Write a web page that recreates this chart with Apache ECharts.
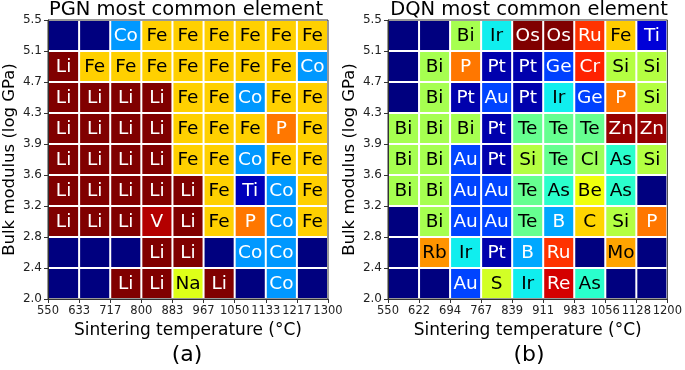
<!DOCTYPE html>
<html>
<head>
<meta charset="utf-8">
<script src="https://cdn.jsdelivr.net/npm/echarts@6/dist/echarts.min.js"></script>
<style>
  html, body { margin: 0; padding: 0; background: #fff; }
  #chart { width: 685px; height: 370px; }
</style>
</head>
<body>
<div id="chart"></div>
<script>
// tick labels (cell boundaries)
const xTicksPGN = ['550', '633', '717', '800', '883', '967', '1050', '1133', '1217', '1300'];
const xTicksDQN = ['550', '622', '694', '767', '839', '911', '983', '1056', '1128', '1200'];
const yTicks = ['2.0', '2.4', '2.8', '3.2', '3.6', '3.9', '4.3', '4.7', '5.1', '5.5'];

// most common element per cell, top row first ('' = none)
const pgnGrid = [
  ['', '', 'Co', 'Fe', 'Fe', 'Fe', 'Fe', 'Fe', 'Fe'],
  ['Li', 'Fe', 'Fe', 'Fe', 'Fe', 'Fe', 'Fe', 'Fe', 'Co'],
  ['Li', 'Li', 'Li', 'Li', 'Fe', 'Fe', 'Co', 'Fe', 'Fe'],
  ['Li', 'Li', 'Li', 'Li', 'Fe', 'Fe', 'Fe', 'P', 'Fe'],
  ['Li', 'Li', 'Li', 'Li', 'Fe', 'Fe', 'Co', 'Fe', 'Fe'],
  ['Li', 'Li', 'Li', 'Li', 'Li', 'Fe', 'Ti', 'Co', 'Fe'],
  ['Li', 'Li', 'Li', 'V', 'Li', 'Fe', 'P', 'Co', 'Fe'],
  ['', '', '', 'Li', 'Li', '', 'Co', 'Co', ''],
  ['', '', 'Li', 'Li', 'Na', 'Li', '', 'Co', '']
];
const dqnGrid = [
  ['', '', 'Bi', 'Ir', 'Os', 'Os', 'Ru', 'Fe', 'Ti'],
  ['', 'Bi', 'P', 'Pt', 'Pt', 'Ge', 'Cr', 'Si', 'Si'],
  ['', 'Bi', 'Pt', 'Au', 'Pt', 'Ir', 'Ge', 'P', 'Si'],
  ['Bi', 'Bi', 'Bi', 'Pt', 'Te', 'Te', 'Te', 'Zn', 'Zn'],
  ['Bi', 'Bi', 'Au', 'Pt', 'Si', 'Te', 'Cl', 'As', 'Si'],
  ['Bi', 'Bi', 'Au', 'Au', 'Te', 'As', 'Be', 'As', ''],
  ['', 'Bi', 'Au', 'Au', 'Te', 'B', 'C', 'Si', 'P'],
  ['', 'Rb', 'Ir', 'Pt', 'B', 'Ru', '', 'Mo', ''],
  ['', '', 'Au', 'S', 'Ir', 'Re', 'As', '', '']
];

// colours (jet-like) per element
const pgnColors = {
  '': '#00007f', Li: '#800000', V: '#b40000', P: '#ff7700', Fe: '#ffd000',
  Na: '#deff18', Co: '#0098ff', Ti: '#0000bb'
};
const dqnColors = {
  '': '#00007f', Os: '#800000', Zn: '#960000', Re: '#d40000', Cr: '#ff2200',
  Ru: '#ff3300', P: '#ff7700', Rb: '#ff9400', Mo: '#ffa400', Fe: '#ffcc00',
  C: '#ffd500', Be: '#f0ff0c', S: '#d2ff26', Si: '#b4ff42', Bi: '#a6ff50',
  Cl: '#9cff5a', Te: '#66ff90', As: '#2affcc', Ir: '#10eeee', B: '#00a8ff',
  Ge: '#0040ff', Au: '#0044ff', Ti: '#0000d8', Pt: '#0000ad'
};
const whiteText = ['Li', 'V', 'P', 'Co', 'Ti', 'Os', 'Zn', 'Re', 'Cr', 'Ru', 'B', 'Ge', 'Au', 'Pt'];

const FONT = 'DejaVu Sans';

// grid rows -> [col, row, element]
const toCells = (grid) => {
  let cells = [];
  grid.forEach((row, r) => {
    row.forEach((el, c) => {
      cells.push([c, grid.length - 1 - r, el]);
    });
  });
  return cells;
};

const makeRender = (colors) => (params, api) => {
  let c = api.value(0);
  let r = api.value(1);
  let el = api.value(2) || '';
  let p0 = api.coord([c, r]);
  let p1 = api.coord([c + 1, r + 1]);
  let x = p0[0] + 1, y = p1[1] + 1;
  let w = p1[0] - p0[0] - 2, h = p0[1] - p1[1] - 2;
  return {
    type: 'group',
    children: [
      { type: 'rect', shape: { x: x, y: y, width: w, height: h },
        style: { fill: colors[el] || colors[''] } },
      { type: 'text', x: x + w / 2, y: y + h / 2 + 1,
        style: { text: el, fill: whiteText.indexOf(el) >= 0 ? '#fff' : '#000',
          font: '18.5px "' + FONT + '"', align: 'center', verticalAlign: 'middle' } }
    ]
  };
};

const xAxisFor = (gridIndex, ticks) => ({
  gridIndex: gridIndex, type: 'value', min: 0, max: 9, interval: 1,
  name: 'Sintering temperature (°C)', nameLocation: 'middle', nameGap: 22,
  nameTextStyle: { fontFamily: FONT, fontSize: 17, color: '#000' },
  axisLine: { show: true, lineStyle: { color: '#333', width: 1 } },
  axisTick: { show: true, length: 4, lineStyle: { color: '#333' } },
  axisLabel: { fontFamily: FONT, fontSize: 11.5, color: '#222', margin: 6,
    hideOverlap: false, showMinLabel: true, showMaxLabel: true, interval: 0,
    formatter: (v) => ticks[Math.round(v)] },
  splitLine: { show: false }
});

const yAxisFor = (gridIndex) => ({
  gridIndex: gridIndex, type: 'value', min: 0, max: 9, interval: 1,
  name: 'Bulk modulus (log GPa)', nameLocation: 'middle', nameGap: 30,
  nameTextStyle: { fontFamily: FONT, fontSize: 16.5, color: '#000' },
  axisLine: { show: true, lineStyle: { color: '#333', width: 1 } },
  axisTick: { show: true, length: 4, lineStyle: { color: '#333' } },
  axisLabel: { fontFamily: FONT, fontSize: 12, color: '#222', margin: 6,
    hideOverlap: false, showMinLabel: true, showMaxLabel: true, interval: 0,
    formatter: (v) => yTicks[Math.round(v)] },
  splitLine: { show: false }
});

let chartDiv = document.getElementById('chart');
let myChart = echarts.init(chartDiv, null, { renderer: 'canvas' });

let option = {
  animation: false,
  backgroundColor: '#fff',
  grid: [
    { left: 45, top: 20, width: 283, height: 279, show: true, borderColor: '#333', borderWidth: 1, backgroundColor: '#fff' },
    { left: 388, top: 20, width: 282, height: 279, show: true, borderColor: '#333', borderWidth: 1, backgroundColor: '#fff' }
  ],
  xAxis: [xAxisFor(0, xTicksPGN), xAxisFor(1, xTicksDQN)],
  yAxis: [yAxisFor(0), yAxisFor(1)],
  graphic: [
    { type: 'text', x: 186, y: 10, style: { text: 'PGN most common element', font: '19.5px "' + FONT + '"', fill: '#000', align: 'center', verticalAlign: 'middle' } },
    { type: 'text', x: 529, y: 10, style: { text: 'DQN most common element', font: '19.5px "' + FONT + '"', fill: '#000', align: 'center', verticalAlign: 'middle' } },
    { type: 'text', x: 187, y: 355, style: { text: '(a)', font: '22px "' + FONT + '"', fill: '#000', align: 'center', verticalAlign: 'middle' } },
    { type: 'text', x: 529, y: 355, style: { text: '(b)', font: '22px "' + FONT + '"', fill: '#000', align: 'center', verticalAlign: 'middle' } }
  ],
  series: [
    { type: 'custom', xAxisIndex: 0, yAxisIndex: 0, data: toCells(pgnGrid),
      renderItem: makeRender(pgnColors), encode: { x: 0, y: 1 } },
    { type: 'custom', xAxisIndex: 1, yAxisIndex: 1, data: toCells(dqnGrid),
      renderItem: makeRender(dqnColors), encode: { x: 0, y: 1 } }
  ]
};

if (option && typeof option === 'object') {
  myChart.setOption(option);
}
</script>
</body>
</html>
